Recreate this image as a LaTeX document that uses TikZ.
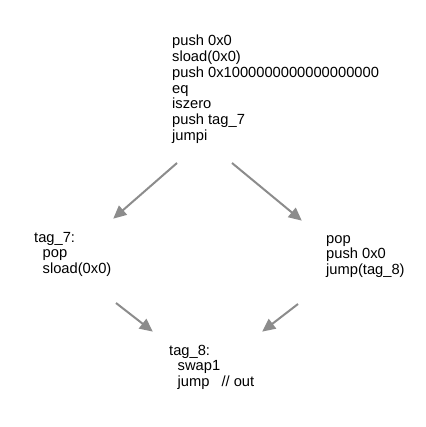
\documentclass[tikz,border=0pt]{standalone}
\usepackage{fontspec}
\setmainfont{Liberation Sans}
\usetikzlibrary{arrows.meta}
\tikzset{
  code/.style={anchor=base west, inner sep=0pt, font=\fontsize{14.7}{15.7}\selectfont},
  flow/.style={draw=black!45, line width=2pt, -{Triangle[length=13pt,width=12pt]}, shorten >=-1pt}
}
\newcommand{\ind}{\hspace*{8.5pt}}
\begin{document}
\begin{tikzpicture}[x=1pt,y=-1pt]
\path[use as bounding box, fill=white] (0,0) rectangle (425,427);
\node[code] (entry) at (172,46) {\begin{tabular}[t]{@{}l@{}}push 0x0\\sload(0x0)\\push 0x1000000000000000000\\eq\\iszero\\push tag\_7\\jumpi\end{tabular}};
\node[code] (tagseven) at (34,242) {\begin{tabular}[t]{@{}l@{}}tag\_7:\\\ind pop\\\ind sload(0x0)\end{tabular}};
\node[code] (fall) at (326,243) {\begin{tabular}[t]{@{}l@{}}pop\\push 0x0\\jump(tag\_8)\end{tabular}};
\node[code] (tageight) at (169,355) {\begin{tabular}[t]{@{}l@{}}tag\_8:\\\ind swap1\\\ind jump\hspace*{12pt}// out\end{tabular}};
\coordinate (a1s) at (177,163); \coordinate (a1e) at (114,218);
\coordinate (a2s) at (232,163); \coordinate (a2e) at (301,220);
\coordinate (a3s) at (116,303); \coordinate (a3e) at (152,331);
\coordinate (a4s) at (298,304); \coordinate (a4e) at (263,331);
\draw[flow] (a1s) -- (a1e);
\draw[flow] (a2s) -- (a2e);
\draw[flow] (a3s) -- (a3e);
\draw[flow] (a4s) -- (a4e);
\end{tikzpicture}
\end{document}
